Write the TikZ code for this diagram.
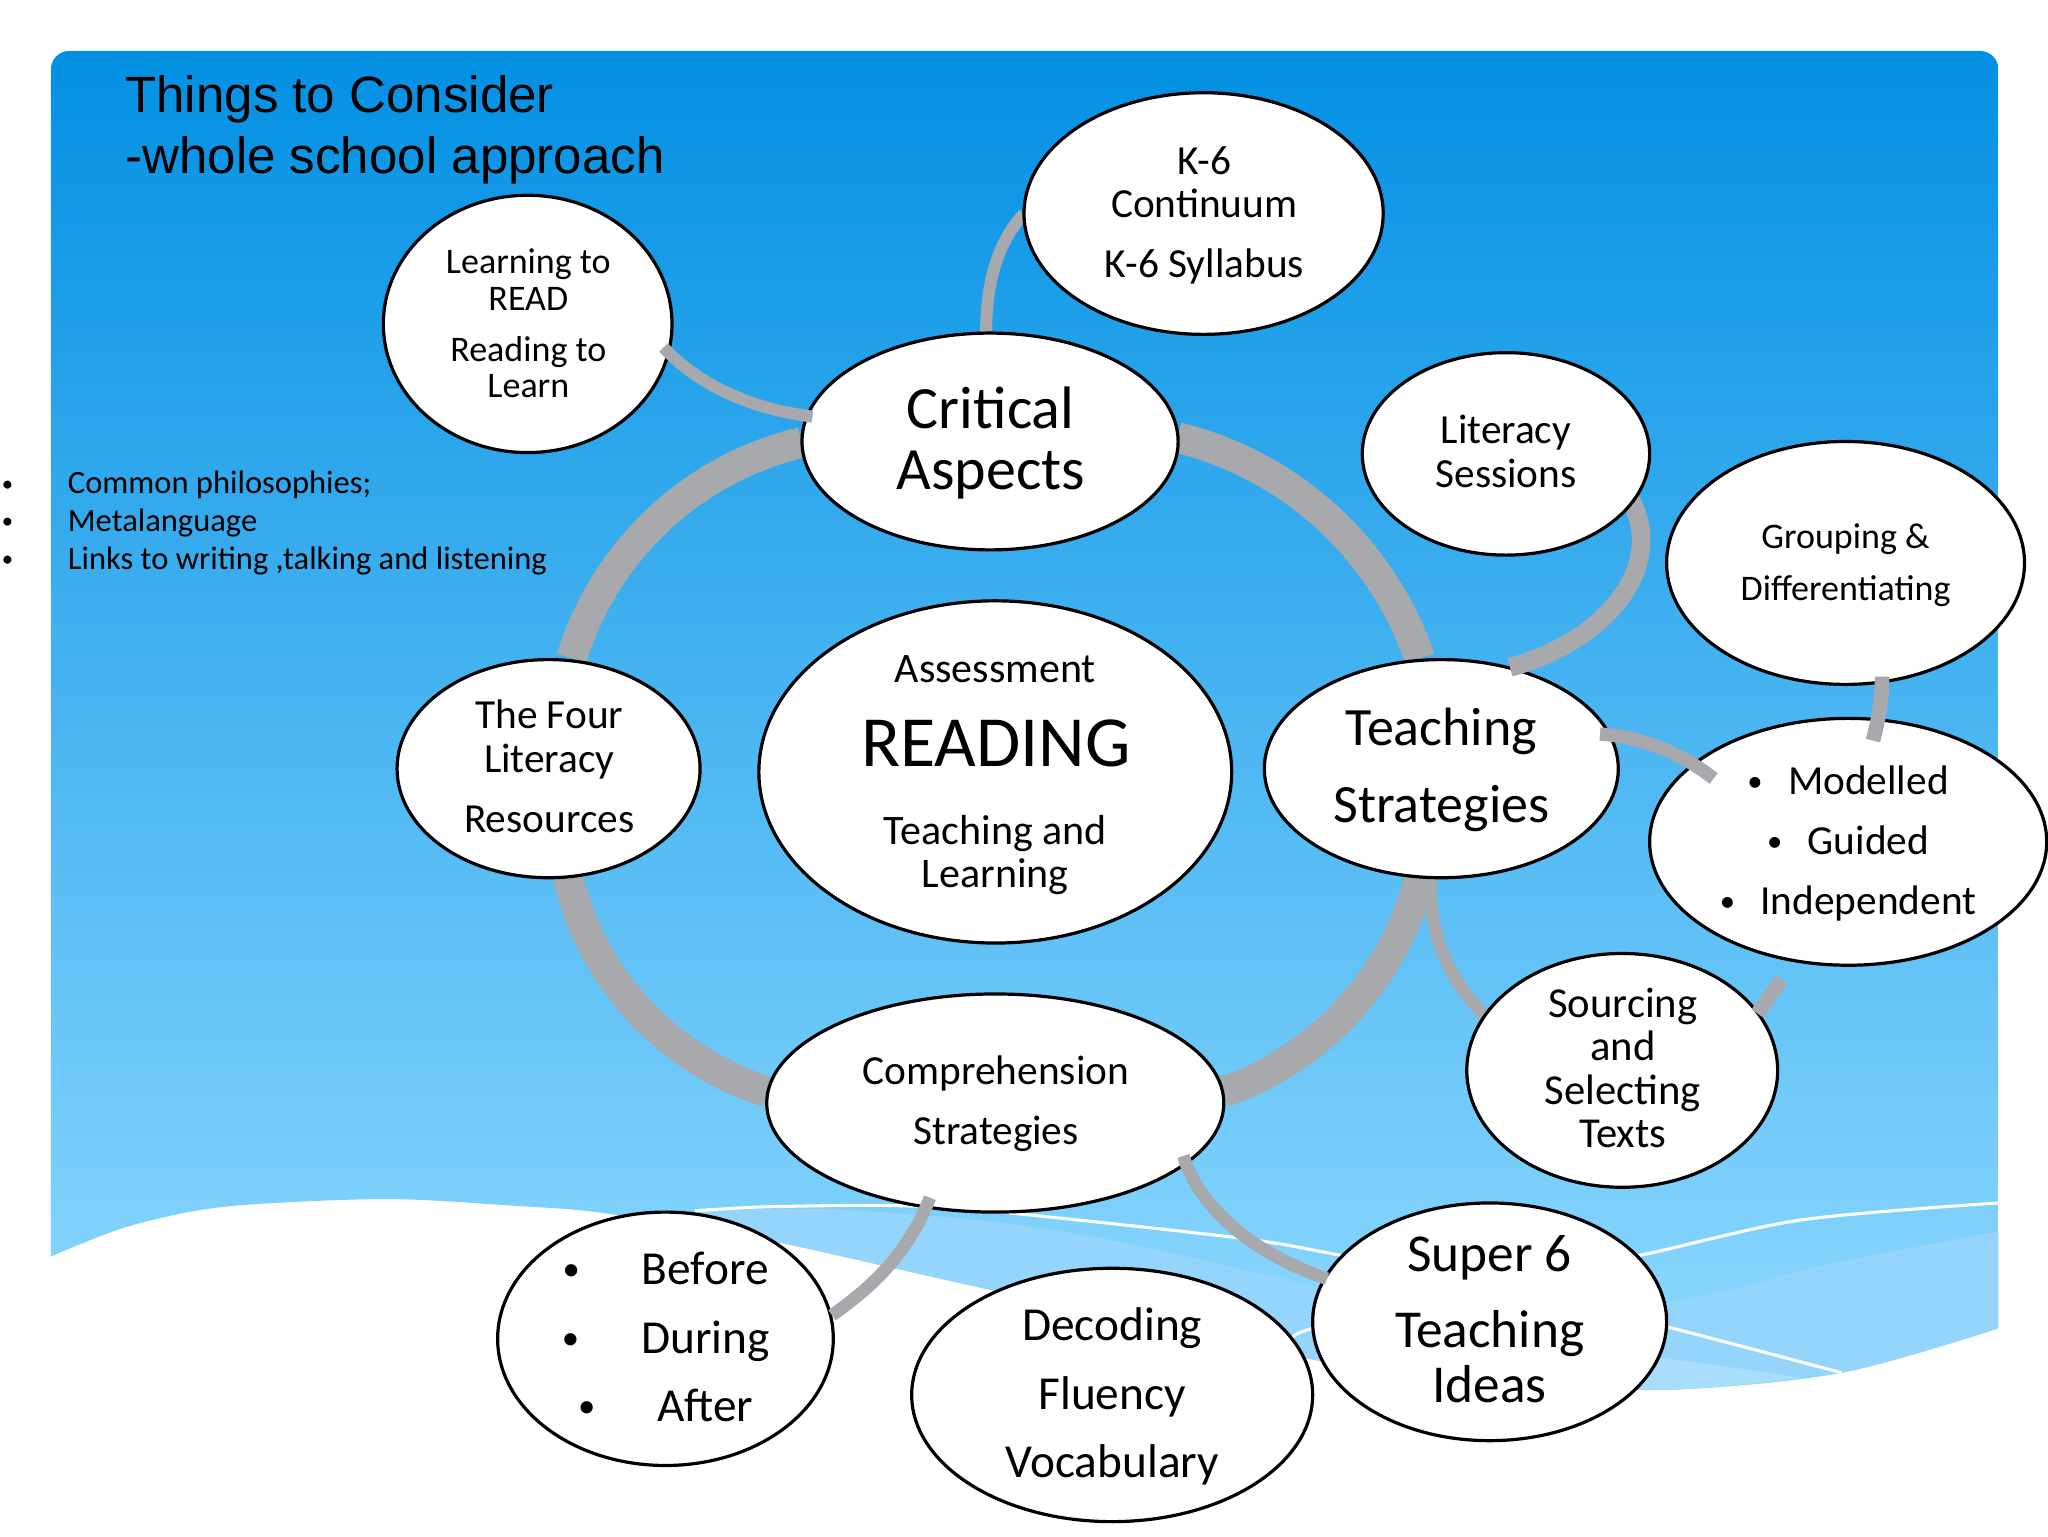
\documentclass[tikz,border=0pt]{standalone}
\usepackage{fontspec}
\setmainfont{Carlito}
\newfontfamily\titlefont{Liberation Sans}
\usetikzlibrary{shapes.geometric,backgrounds}
\definecolor{topblue}{HTML}{0390E3}
\definecolor{midblue}{HTML}{56ABEA}
\definecolor{lowblue}{HTML}{90DAFF}
\definecolor{wavea}{HTML}{95D4FB}
\definecolor{waveb}{HTML}{A8DEFC}
\definecolor{linkgray}{HTML}{A8A9AC}
\newcommand{\fsz}[2]{\fontsize{#1}{#2}\selectfont}
\newcommand{\bul}[4]{\llap{\raisebox{#2pt}{\fsz{#1}{#1}•}\hspace{#3pt}}#4}
\tikzset{
  x=0.97959pt, y=-0.97959pt,
  bub/.style 2 args={ellipse, draw=black, fill=white, line width=2.4pt, inner sep=0pt, outer sep=0pt,
     minimum width=#1*0.97959pt, minimum height=#2*0.97959pt},
  txt/.style={anchor=base, align=center, inner sep=0pt, outer sep=0pt, text=black},
  ringlink/.style={draw=linkgray, line width=23pt},
  link/.style={draw=linkgray, line width=#1pt},
  whiteline/.style={draw=white, line width=2.3pt}
}
\begin{document}
\begin{tikzpicture}
\useasboundingbox (0,0) rectangle (1568,1176);
% bubbles
\node[bub={288}{166}] (ca) at (758,338) {};
\node[bub={275}{185}] (k6) at (921.5,163.5) {};
\node[bub={221}{197}] (lr) at (404,248) {};
\node[bub={274}{186}] (gd) at (1413,431) {};
\node[bub={304}{189}] (mod) at (1415,644.5) {};
\node[bub={271}{167}] (ts) at (1103.5,588.5) {};
\node[bub={362}{262}] (rd) at (762,591) {};
\node[bub={232}{167}] (fr) at (420,588.5) {};
\node[bub={350}{167}] (cs) at (762,844.5) {};
\node[bub={238}{179}] (ss) at (1242,819.5) {};
\node[bub={257}{194}] (bf) at (509.5,1025) {};
\node[bub={307}{194}] (dc) at (851.5,1068) {};
\node[bub={271}{182}] (s6) at (1140.5,1012) {};
% this link lies over the Teaching Strategies bubble and under the Literacy Sessions bubble
\coordinate (lsc) at (1153,347.5);
\draw[link=14] ([shift={(95,34.5)}]lsc) .. controls +(28,50) and +(76,-21) .. ([shift={(52.5,-77.5)}]ts.center);
\node[bub={220}{155}] (ls) at (lsc) {};
% background: panel, waves, ring and the links that pass under the bubbles
\begin{scope}[on background layer]
\fill[white] (0,0) rectangle (1568,1176);
\shade[top color=topblue, middle color=midblue, bottom color=lowblue]
  (39,962) -- (39,53) arc[start angle=180, end angle=270, radius=14] -- (1516,39)
  arc[start angle=270, end angle=360, radius=14] -- (1530,1017)
  -- plot[smooth] coordinates {(1530,1017) (1410,1051) (1275,1064) (1130,1058) (1006,1041) (765,989) (600,952) (464,929) (391,923) (293,918) (171,924) (98,939) (39,962)} -- cycle;
\fill[wavea] plot[smooth] coordinates {(532,927) (640,926) (766,936) (868,953) (990,981) (1130,1012) (1277,998) (1405,967) (1530,943)}
  -- (1530,1017)
  -- plot[smooth] coordinates {(1530,1017) (1410,1051) (1275,1064) (1130,1058) (1006,1041) (765,989) (600,952) (532,938)} -- cycle;
\fill[waveb] plot[smooth] coordinates {(1006,1041) (1130,1025) (1268,1039) (1380,1055)}
  -- plot[smooth] coordinates {(1380,1055) (1275,1064) (1130,1058) (1006,1041)} -- cycle;
\draw[whiteline] plot[smooth] coordinates {(532,927) (586,924) (684,923) (766,928) (950,948) (1026,961) (1150,985) (1277,1016) (1410,1051)};
\draw[whiteline] plot[smooth] coordinates {(990,1025) (1005,1017) (1130,985) (1256,961) (1379,934) (1530,921)};
% ring
\draw[ringlink] ([shift={(143.5,-3)}]ca.center) .. controls +(86.5,21) and +(-29,-84) .. ([shift={(-16.5,-84.5)}]ts.center);
\draw[ringlink] ([shift={(-16.5,82.5)}]ts.center) .. controls +(-18,76) and +(74,-25) .. ([shift={(174.7,-8.5)}]cs.center);
\draw[ringlink] ([shift={(-174.4,-8.5)}]cs.center) .. controls +(-76,-24) and +(18,78) .. ([shift={(14.9,82.8)}]fr.center);
\draw[ringlink] ([shift={(17.7,-84.5)}]fr.center) .. controls +(25,-82) and +(-84,20) .. ([shift={(-144.2,0.7)}]ca.center);
% links beneath the bubbles
\draw[link=9] (k6.west) .. controls +(-22,24) and +(0,-35) .. ([shift={(-3,0)}]ca.north);
\draw[link=9.5] ([shift={(-8,80)}]ts.center) .. controls +(-3,47) and +(-27,-28) .. ([shift={(-105,-41.5)}]ss.center);
\end{scope}
% links over the bubbles
\draw[link=9] ([shift={(104,18)}]lr.center) .. controls +(27,29) and +(-47,-6) .. ([shift={(-136,-19)}]ca.center);
\draw[link=11] ([shift={(28,87)}]gd.center) .. controls +(0,17) and +(4,-15) .. ([shift={(19,-77.5)}]mod.center);
\draw[link=10] ([shift={(121.5,-26.5)}]ts.center) .. controls +(30,2) and +(-27,-21) .. ([shift={(-103,-48.5)}]mod.center);
\draw[link=11] ([shift={(-51,105.5)}]mod.center) -- ([shift={(103.6,-43.5)}]ss.center);
\draw[link=9.5] ([shift={(144,40.5)}]cs.center) .. controls +(12,40) and +(-56,-19) .. ([shift={(-124.5,-33)}]s6.center);
\draw[link=9.5] ([shift={(-50,72.5)}]cs.center) .. controls +(-17,43) and +(31,-22) .. ([shift={(127.5,-18)}]bf.center);
% texts
\node[txt, anchor=base west, align=left, font=\titlefont\fsz{38.3}{46}] (title) at (96,133) {Things to Consider\\-whole school approach};
\node[txt, anchor=base west, align=left, font=\fsz{24.4}{28.4}] (notes) at (52,436) {\bul{17}{2}{41}{Common philosophies;}\\\bul{17}{2}{41}{Metalanguage}\\\bul{17}{2}{41}{Links to writing ,talking and listening}};
\node[txt, font=\fsz{27}{27.5}] (lrt) at (404.5,304.5) {Learning to\\READ\\[10.5pt]Reading to\\Learn};
\node[txt, font=\fsz{31}{32.5}] (k6t) at (922,212.5) {K-6\\Continuum\\[12.5pt]K-6 Syllabus};
\node[txt, font=\fsz{45}{46}] (cat) at (758.5,375) {Critical\\Aspects};
\node[txt, font=\fsz{31}{32.5}] (lst) at (1153,373) {Literacy\\Sessions};
\node[txt, font=\fsz{27}{38.5}] (gdt) at (1413,459.5) {Grouping \&\\Differentiating};
\node[txt, font=\fsz{40.5}{58}] (tst) at (1103.5,630) {Teaching\\Strategies};
\node[txt, font=\fsz{31.5}{32.5}] (rdb) at (762,679.5) {Teaching and\\Learning};
\node[txt, font=\fsz{54}{56}] (rdm) at (762.5,586.5) {READING};
\node[txt, font=\fsz{31.5}{32}] (rda) at (762,522.5) {Assessment};
\node[txt, font=\fsz{31}{32.5}] (frt) at (420.5,637) {The Four\\Literacy\\[12.5pt]Resources};
\node[txt, font=\fsz{31}{45}] (modt) at (1430.5,700.5) {\bul{23}{2.5}{19}{Modelled}\\\bul{23}{2.5}{19}{Guided}\\\bul{23}{2.5}{19}{Independent}};
\node[txt, font=\fsz{32}{32.5}] (sst) at (1242.5,878.5) {Sourcing\\and\\Selecting\\Texts};
\node[txt, font=\fsz{31}{45}] (cst) at (762.5,876.5) {Comprehension\\Strategies};
\node[txt, font=\fsz{35.5}{51.5}] (bft) at (540,1088.5) {\bul{26}{3}{46.5}{Before}\\\bul{26}{3}{46.5}{During}\\\bul{26}{3}{46.5}{After}};
\node[txt, font=\fsz{35.5}{51.5}] (dct) at (851.5,1131.5) {Decoding\\Fluency\\Vocabulary};
\node[txt, font=\fsz{40}{41}] (s6t) at (1140.5,1073.5) {Super 6\\[16pt]Teaching\\Ideas};
\end{tikzpicture}
\end{document}
